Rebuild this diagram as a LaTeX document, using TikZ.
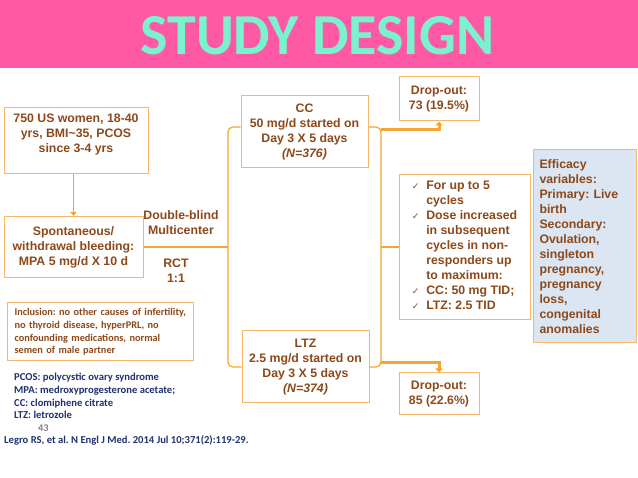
\documentclass[tikz,border=0pt]{standalone}
\usepackage{fontspec}
\setmainfont{Liberation Sans}
\newfontfamily\calibri{Carlito}
\newfontfamily\symb{DejaVu Sans}
\usetikzlibrary{arrows.meta,positioning,calc}

\definecolor{titlepink}{RGB}{255,88,165}
\definecolor{titleteal}{RGB}{122,242,205}
\definecolor{boxline}{RGB}{247,182,105}
\definecolor{linkorange}{RGB}{245,165,50}
\definecolor{textbrown}{RGB}{140,72,25}
\definecolor{notenavy}{RGB}{30,50,110}
\definecolor{effblue}{RGB}{220,230,242}

\newcommand{\chk}{{\symb\mdseries\fontsize{9}{9}\selectfont ✓}}
\frenchspacing

\begin{document}
\begin{tikzpicture}[x=1pt, y=-1pt,
    box/.style={draw=boxline, line width=1pt, inner sep=0pt, align=center, text=textbrown, font=\bfseries\fontsize{12.3}{15}\selectfont},
    note/.style={text=textbrown, align=center, font=\bfseries\fontsize{12.3}{15}\selectfont},
    link/.style={draw=linkorange, line width=1.2pt},
    droplink/.style={draw=linkorange, line width=3pt, -{Triangle[width=7pt,length=4pt]}},
    small/.style={inner sep=0pt, align=left, font=\calibri\bfseries\fontsize{10.3}{12.7}\selectfont},
]
\useasboundingbox (0,0) rectangle (638,478);

% Title
\node[fill=titlepink, minimum width=638pt, minimum height=68pt, inner sep=0pt, anchor=north west] (banner) at (0,0) {};
\node[anchor=base, text=titleteal, font=\calibri\bfseries\fontsize{58}{58}\selectfont] (title) at (317.5,55) {STUDY DESIGN};

% Population
\node[box, minimum width=144pt, minimum height=66pt] (pop) at (76,141) {750 US women, 18-40\\yrs, BMI\textasciitilde35, PCOS\\since 3-4 yrs\\\mbox{}};
\node[box, minimum width=139pt, minimum height=61pt] (bleed) at (73.5,247) {Spontaneous/\\withdrawal bleeding:\\MPA 5 mg/d X 10 d};

\node[note] (blind) at (181,223) {Double-blind\\Multicenter};
\node[note] (rct) at (176,271) {RCT\\1:1};

% Arms
\node[box, minimum width=127pt, minimum height=72pt] (cc) at (304.5,132) {CC\\50 mg/d started on\\Day 3 X 5 days\\\textit{(N=376)}};
\node[box, minimum width=127pt, minimum height=72pt] (ltz) at (305.5,367) {LTZ\\2.5 mg/d started on\\Day 3 X 5 days\\\textit{(N=374)}};

% Drop-outs
\node[box, minimum width=80pt, minimum height=44pt] (drop1) at (439,99) {Drop-out:\\73 (19.5\%)};
\node[box, minimum width=80pt, minimum height=42pt] (drop2) at (439,394) {Drop-out:\\85 (22.6\%)};

% Dosing
\node[box, minimum width=131pt, minimum height=145pt] (check) at (464.5,247) {%
  \begin{tabular}{@{}l@{\hspace{7pt}}l@{}}
  \chk & For up to 5\\
       & cycles\\
  \chk & Dose increased\\
       & in subsequent\\
       & cycles in non-\\
       & responders up\\
       & to maximum:\\
  \chk & CC: 50 mg TID;\\
  \chk & LTZ: 2.5 TID
  \end{tabular}};

% Outcomes
\node[box, fill=effblue, anchor=west, align=left, text width=91pt, inner xsep=6pt, minimum height=193pt] (eff) at (533,246.5)
  {Efficacy\\variables:\\Primary: Live\\birth\\Secondary:\\Ovulation,\\singleton\\pregnancy,\\pregnancy\\loss,\\congenital\\anomalies};

% Notes
\node[box, small, anchor=west, text width=172pt, inner xsep=7pt, minimum height=58pt] (incl) at (7,332)
  {Inclusion: no other causes of infertility,\\no thyroid disease, hyperPRL, no\\confounding medications, normal\\semen of male partner};
\node[small, text=notenavy, anchor=north west, font=\calibri\bfseries\fontsize{10.6}{12.7}\selectfont] (abbr) at (14,373)
  {PCOS: polycystic ovary syndrome\\MPA: medroxyprogesterone acetate;\\CC: clomiphene citrate\\LTZ: letrozole};
\node[small, text=gray, anchor=west] (page) at (38,428) {43};
\node[small, text=notenavy, anchor=west, font=\calibri\bfseries\fontsize{10.6}{12.7}\selectfont] (ref) at (4,440) {Legro RS, et al. N Engl J Med. 2014 Jul 10;371(2):119-29.};

% Connectors
\coordinate (splitL) at (228,247);
\coordinate (splitR) at (381,247);
\coordinate (outTop) at (381,130);
\coordinate (outBot) at (381,363);

\draw[link, -{Triangle[width=6pt,length=4pt]}] (pop.south -| bleed.north) -- (bleed);
\draw[link] (bleed) -- (splitL);
\draw[link, rounded corners=5pt] ([yshift=5pt]cc.west) -| (splitL) |- (ltz.west);
\draw[link, rounded corners=5pt] ([yshift=5pt]cc.east) -| (splitR) |- (ltz.east);
\draw[link] (splitR) -- (check);
\draw[droplink] (outTop) -| (drop1);
\draw[droplink] (outBot) -| (drop2);

\end{tikzpicture}
\end{document}
